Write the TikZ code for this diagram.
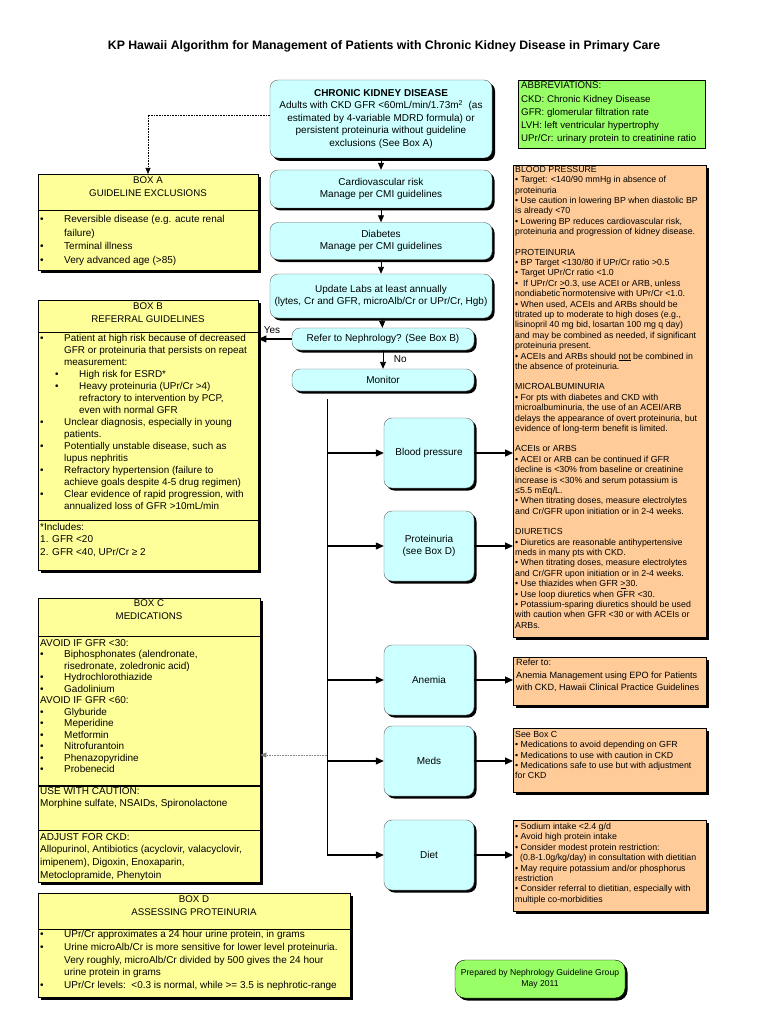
\documentclass[tikz,border=0pt]{standalone}
\usepackage{fontspec}
\setmainfont{Liberation Sans}
\usetikzlibrary{arrows.meta,shadows}
\definecolor{cy}{HTML}{CCFFFF}
\definecolor{ye}{HTML}{FFFF99}
\definecolor{og}{HTML}{FFCC99}
\definecolor{gr}{HTML}{99FF66}
\newcommand\myB{\makebox[24pt][l]{\textbullet}}
\newcommand\myI{\hspace*{24pt}}
\newcommand\mySB{\hspace*{15pt}\makebox[24pt][l]{\textbullet}}
\newcommand\mySI{\hspace*{39pt}}
\begin{document}
\begin{tikzpicture}[x=1pt,y=-1pt,
  shad/.style={drop shadow={shadow xshift=2.5pt,shadow yshift=-2.5pt,fill=black,opacity=1}},
  cbox/.style={draw=black!60,fill=cy,rounded corners=8pt,shad,align=center,font=\fontsize{10}{12.5}\selectfont},
  ybox/.style={draw=black,fill=ye,shad},
  obox/.style={draw=black,fill=og,shad},
  txt/.style={inner sep=0pt,align=left,anchor=north west,font=\fontsize{10}{12.8}\selectfont},
  otxt/.style={inner sep=0pt,align=left,anchor=north west,font=\fontsize{8.8}{10.4}\selectfont},
  hdr/.style={inner sep=0pt,align=center,anchor=north,font=\fontsize{9.7}{13}\selectfont},
  arr/.style={-{Triangle[length=8pt,width=7pt]},line width=1.2pt},
  sarr/.style={-{Triangle[length=7pt,width=6pt]},line width=0.9pt},
  dotarr/.style={-{Triangle[length=6pt,width=5pt]},densely dotted,line width=0.6pt}]
\useasboundingbox (0,0) rectangle (768,1024);
\fill[white] (0,0) rectangle (768,1024);
\node[font=\bfseries\fontsize{12.3}{14}\selectfont] (title) at (384,46) {KP Hawaii Algorithm for Management of Patients with Chronic Kidney Disease in Primary Care};

% central flow
\node[cbox,minimum width=222pt,minimum height=78pt,inner xsep=1pt,drop shadow={shadow xshift=3pt,shadow yshift=-3pt,fill=black,opacity=1}] (ckd) at (381,119) {\textbf{CHRONIC KIDNEY DISEASE}\\Adults with CKD GFR <60mL/min/1.73m\textsuperscript{2}~ (as\\estimated by 4-variable MDRD formula) or\\persistent proteinuria without guideline\\exclusions (See Box A)};
\node[cbox,minimum width=222pt,minimum height=38pt] (cv) at (381,189) {Cardiovascular risk\\Manage per CMI guidelines};
\node[cbox,minimum width=222pt,minimum height=37pt] (dm) at (381,241) {Diabetes\\Manage per CMI guidelines};
\node[cbox,minimum width=222pt,minimum height=44pt,inner xsep=1pt] (labs) at (381,296) {Update Labs at least annually\\(lytes, Cr and GFR, microAlb/Cr or UPr/Cr, Hgb)};
\node[cbox,minimum width=182pt,minimum height=22pt] (ref) at (383,339) {Refer to Nephrology? (See Box B)};
\node[cbox,minimum width=182pt,minimum height=22pt] (mon) at (383,380) {Monitor};
\draw[sarr] (ckd) -- (cv);
\draw[sarr] (cv) -- (dm);
\draw[sarr] (dm) -- (labs);
\draw[sarr] (labs) -- (ref);
\draw[sarr] (ref) -- node[right=7pt,font=\fontsize{10}{12}\selectfont]{No} (mon);
\node[font=\fontsize{10}{12}\selectfont] (yes) at (272,330) {Yes};

\node[cbox,minimum width=90pt,minimum height=70pt] (bp) at (429,453) {Blood pressure};
\node[cbox,minimum width=90pt,minimum height=70pt] (pr) at (429,546) {Proteinuria\\(see Box D)};
\node[cbox,minimum width=90pt,minimum height=70pt] (an) at (429,680) {Anemia};
\node[cbox,minimum width=90pt,minimum height=70pt] (me) at (429,761) {Meds};
\node[cbox,minimum width=90pt,minimum height=70pt] (di) at (429,855) {Diet};
\coordinate (t0) at (327,399);
\coordinate (t1) at (327,855);
\draw[line width=0.9pt] (t0) -- (t1);
\foreach \n in {bp,pr,an,me,di}{\draw[arr] (t0 |- \n.west) -- (\n.west);}

% right boxes
\node[draw=black,fill=gr,minimum width=187pt,minimum height=68pt,anchor=north west] (abb) at (518,80) {};
\node[txt,font=\fontsize{9.7}{13.2}\selectfont] at (521,82) {ABBREVIATIONS:\\CKD: Chronic Kidney Disease\\GFR: glomerular filtration rate\\LVH: left ventricular hypertrophy\\UPr/Cr: urinary protein to creatinine ratio};

\node[obox,minimum width=193pt,minimum height=472pt,anchor=north west] (obp) at (513,165) {};
\node[otxt] at (515,166) {BLOOD PRESSURE\\
\textbullet\ Target: <140/90 mmHg in absence of\\proteinuria\\
\textbullet\ Use caution in lowering BP when diastolic BP\\is already <70\\
\textbullet\ Lowering BP reduces cardiovascular risk,\\proteinuria and progression of kidney disease.\\[10pt]
PROTEINURIA\\
\textbullet\ BP Target <130/80 if UPr/Cr ratio >0.5\\
\textbullet\ Target UPr/Cr ratio <1.0\\
\textbullet\ \ If UPr/Cr \underline{>}0.3, use ACEI or ARB, unless\\nondiabetic normotensive with UPr/Cr <1.0.\\
\textbullet\ When used, ACEIs and ARBs should be\\titrated up to moderate to high doses (e.g.,\\lisinopril 40 mg bid, losartan 100 mg q day)\\and may be combined as needed, if significant\\proteinuria present.\\
\textbullet\ ACEIs and ARBs should \underline{not} be combined in\\the absence of proteinuria.\\[10pt]
MICROALBUMINURIA\\
\textbullet\ For pts with diabetes and CKD with\\microalbuminuria, the use of an ACEI/ARB\\delays the appearance of overt proteinuria, but\\evidence of long-term benefit is limited.\\[10pt]
ACEIs or ARBS\\
\textbullet\ ACEI or ARB can be continued if GFR\\decline is <30\% from baseline or creatinine\\increase is <30\% and serum potassium is\\≤5.5 mEq/L.\\
\textbullet\ When titrating doses, measure electrolytes\\and Cr/GFR upon initiation or in 2-4 weeks.\\[10pt]
DIURETICS\\
\textbullet\ Diuretics are reasonable antihypertensive\\meds in many pts with CKD.\\
\textbullet\ When titrating doses, measure electrolytes\\and Cr/GFR upon initiation or in 2-4 weeks.\\
\textbullet\ Use thiazides when GFR \underline{>}30.\\
\textbullet\ Use loop diuretics when GFR <30.\\
\textbullet\ Potassium-sparing diuretics should be used\\with caution when GFR <30 or with ACEIs or\\ARBs.};

\node[obox,minimum width=193pt,minimum height=48pt,anchor=north west] (oan) at (513,657) {};
\node[otxt,font=\fontsize{9.1}{12.5}\selectfont] at (516,659) {Refer to:\\Anemia Management using EPO for Patients\\with CKD, Hawaii Clinical Practice Guidelines};
\node[obox,minimum width=193pt,minimum height=64pt,anchor=north west] (ome) at (513,728) {};
\node[otxt] at (515,731) {See Box C\\\textbullet\ Medications to avoid depending on GFR\\\textbullet\ Medications to use with caution in CKD\\\textbullet\ Medications safe to use but with adjustment\\for CKD};
\node[obox,minimum width=193pt,minimum height=91pt,anchor=north west] (odi) at (513,820) {};
\node[otxt] at (515,823) {\textbullet\ Sodium intake <2.4 g/d\\\textbullet\ Avoid high protein intake\\\textbullet\ Consider modest protein restriction:\\\ \ (0.8-1.0g/kg/day) in consultation with dietitian\\\textbullet\ May require potassium and/or phosphorus\\restriction\\\textbullet\ Consider referral to dietitian, especially with\\multiple co-morbidities};

\draw[arr] (bp.east) -- (obp.west |- bp.east);
\draw[arr] (pr.east) -- (obp.west |- pr.east);
\draw[arr] (an.east) -- (oan.west |- an.east);
\draw[arr] (me.east) -- (ome.west |- me.east);
\draw[arr] (di.east) -- (odi.west |- di.east);

% Box A
\node[ybox,minimum width=220pt,minimum height=96pt,anchor=north west] (ba) at (38,174) {};
\draw (38,210) -- (258,210);
\node[hdr] at (148,177) {BOX A\\GUIDELINE EXCLUSIONS};
\node[txt,font=\fontsize{10}{13.7}\selectfont] at (40,215) {\myB Reversible disease (e.g. acute renal\\\myI failure)\\\myB Terminal illness\\\myB Very advanced age (>85)};
\coordinate (ca) at (148,115);
\draw[dotarr] (ckd.west |- ca) -- (ca) -- (ba.north -| ca);

% Box B
\node[ybox,minimum width=220pt,minimum height=270pt,anchor=north west] (bb) at (38,300) {};
\draw (38,332) -- (258,332);
\draw[line width=1pt] (38,520) -- (258,520);
\node[hdr] at (148,303) {BOX B\\REFERRAL GUIDELINES};
\node[txt,font=\fontsize{9.9}{12}\selectfont] at (40,334) {\myB Patient at high risk because of decreased\\\myI GFR or proteinuria that persists on repeat\\\myI measurement:\\
\mySB High risk for ESRD*\\\mySB Heavy proteinuria (UPr/Cr >4)\\\mySI refractory to intervention by PCP,\\\mySI even with normal GFR\\
\myB Unclear diagnosis, especially in young\\\myI patients.\\\myB Potentially unstable disease, such as\\\myI lupus nephritis\\\myB Refractory hypertension (failure to\\\myI achieve goals despite 4-5 drug regimen)\\\myB Clear evidence of rapid progression, with\\\myI annualized loss of GFR >10mL/min};
\node[txt,font=\fontsize{10}{12.5}\selectfont] at (40,523) {*Includes:\\1. GFR <20\\2. GFR <40, UPr/Cr ≥ 2};
\draw[arr] (ref.west) -- (ref.west -| bb.east);

% Box C
\node[ybox,minimum width=222pt,minimum height=284pt,anchor=north west] (bc) at (38,598) {};
\draw (38,636) -- (260,636);
\draw[line width=1.2pt] (38,786) -- (260,786);
\draw (38,830) -- (260,830);
\node[hdr] at (149,600) {BOX C\\MEDICATIONS};
\node[txt,font=\fontsize{10}{11.5}\selectfont] at (40,639) {AVOID IF GFR <30:\\\myB Biphosphonates (alendronate,\\\myI risedronate, zoledronic acid)\\\myB Hydrochlorothiazide\\\myB Gadolinium\\AVOID IF GFR <60:\\\myB Glyburide\\\myB Meperidine\\\myB Metformin\\\myB Nitrofurantoin\\\myB Phenazopyridine\\\myB Probenecid};
\node[txt] at (40,787) {USE WITH CAUTION:\\Morphine sulfate, NSAIDs, Spironolactone};
\node[txt] at (40,833) {ADJUST FOR CKD:\\Allopurinol, Antibiotics (acyclovir, valacyclovir,\\imipenem), Digoxin, Enoxaparin,\\Metoclopramide, Phenytoin};
\coordinate (cm) at (327,755);
\draw[dotarr,draw=black!50] (cm) -- (cm -| bc.east);

% Box D
\node[ybox,minimum width=312pt,minimum height=104pt,anchor=north west] (bd) at (38,893) {};
\draw (38,929) -- (350,929);
\node[hdr] at (194,896) {BOX D\\ASSESSING PROTEINURIA};
\node[txt] at (40,930) {\myB UPr/Cr approximates a 24 hour urine protein, in grams\\\myB Urine microAlb/Cr is more sensitive for lower level proteinuria.\\\myI Very roughly, microAlb/Cr divided by 500 gives the 24 hour\\\myI urine protein in grams\\\myB UPr/Cr levels:\ \ <0.3 is normal, while >= 3.5 is nephrotic-range};

\node[draw=black,fill=gr,rounded corners=10pt,shad,minimum width=170pt,minimum height=38pt,align=center,font=\fontsize{8.6}{11.5}\selectfont] (prep) at (540,979) {Prepared by Nephrology Guideline Group\\May 2011};
\end{tikzpicture}
\end{document}
